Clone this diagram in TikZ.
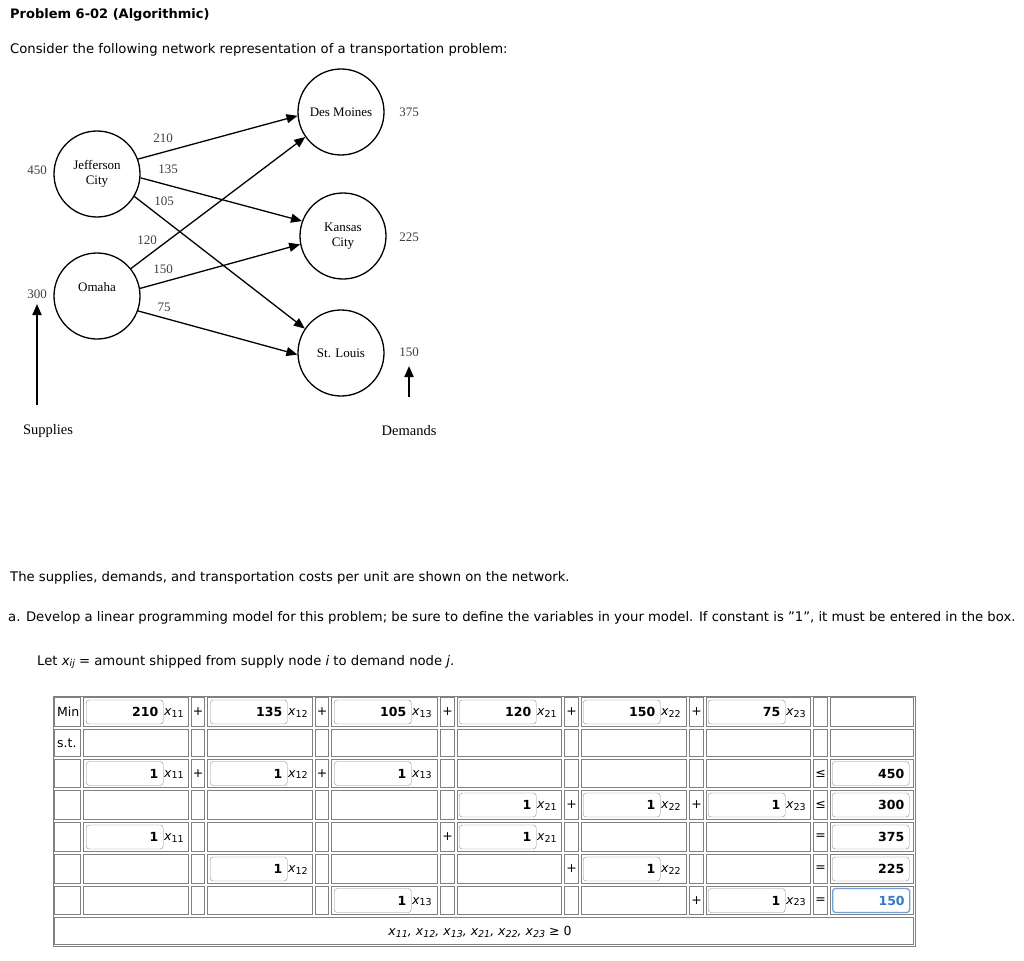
\documentclass[tikz,border=0pt]{standalone}
\usepackage{fontspec}
\setmainfont{DejaVu Sans}
\newfontfamily\serifn{Liberation Serif}
\usetikzlibrary{arrows.meta}
\definecolor{gridc}{gray}{0.5}
\definecolor{boxc}{gray}{0.55}
\definecolor{blueval}{RGB}{52,120,200}
\newcommand\xv[1]{{\itshape x}\raisebox{-1.5pt}{\fontsize{9.5}{10}\selectfont #1}}
\newcommand\sbx[1]{\raisebox{-1.5pt}{\fontsize{9.5}{10}\selectfont #1}}
\tikzset{
  city/.style={circle,draw,line width=1.3pt,minimum size=86pt,inner sep=0pt,align=center,font=\serifn\fontsize{13}{15}\selectfont},
  netlbl/.style={font=\serifn\fontsize{13}{15}\selectfont,text=black!75},
  flow/.style={line width=1.3pt,-{Triangle[length=11pt,width=9pt]}},
  txt/.style={anchor=west,font=\fontsize{13.2}{15}\selectfont,inner sep=0pt},
  cell/.style={draw=gridc,line width=0.8pt},
  valbox/.style={draw=boxc,rounded corners=3pt,minimum width=77pt,minimum height=24pt,inner sep=5pt,anchor=west,align=right,text width=67pt,font=\bfseries\fontsize{12.5}{14}\selectfont},
  vlab/.style={anchor=west,inner sep=0pt,font=\fontsize{12.5}{14}\selectfont},
  op/.style={font=\fontsize{12.5}{14}\selectfont,inner sep=0pt}}
\begin{document}
\begin{tikzpicture}[x=1pt,y=-1pt]
\useasboundingbox (0,0) rectangle (1024,960);
\fill[white] (0,0) rectangle (1024,960);
\node[txt,font=\bfseries\fontsize{13}{15}\selectfont] (title) at (10,15) {Problem 6-02 (Algorithmic)};
\node[txt] (cons) at (10,50) {Consider the following network representation of a transportation problem:};
\node[txt] (supp) at (10,578) {The supplies, demands, and transportation costs per unit are shown on the network.};
\node[txt] (parta) at (8,618) {a. Develop a linear programming model for this problem; be sure to define the variables in your model. If constant is \symbol{34}1\symbol{34}, it must be entered in the box.};
\node[txt] (let) at (37,662) {Let {\itshape x\sbx{ij}} = amount shipped from supply node {\itshape i} to demand node {\itshape j}.};
\node[city] (J) at (97,174) {Jefferson\\City};
\node[city] (O) at (97,296) {Omaha\\[4pt]};
\node[city] (DM) at (341,112) {Des Moines};
\node[city] (KC) at (343,236) {Kansas\\City};
\node[city] (SL) at (341,353) {St. Louis};
\draw[flow] (J.20) -- (DM.185);
\draw[flow] (J.-5) -- (KC.160);
\draw[flow] (J.-31) -- (SL.146);
\draw[flow] (O.39) -- (DM.215);
\draw[flow] (O.10) -- (KC.191);
\draw[flow] (O.-20) -- (SL.182);
\node[netlbl] (c1) at (163,138) {210};
\node[netlbl] (c2) at (168,169) {135};
\node[netlbl] (c3) at (164,201) {105};
\node[netlbl] (c4) at (147,240) {120};
\node[netlbl] (c5) at (163,269) {150};
\node[netlbl] (c6) at (164,307) {75};
\node[netlbl] (s1) at (37,170) {450};
\node[netlbl] (s2) at (37,294) {300};
\node[netlbl] (d1) at (409,112) {375};
\node[netlbl] (d2) at (409,237) {225};
\node[netlbl] (d3) at (409,352) {150};
\node[font=\serifn\fontsize{14.5}{16}\selectfont] (SupL) at (48,431) {Supplies};
\node[font=\serifn\fontsize{14.5}{16}\selectfont] (DemL) at (409,431) {Demands};
\coordinate (sa) at (37,405); \coordinate (sb) at (37,304);
\coordinate (da) at (409,397); \coordinate (db) at (409,366);
\draw[flow,line width=2pt] (sa) -- (sb);
\draw[flow,line width=2pt] (da) -- (db);
\draw[gridc,line width=0.8pt] (53,696) rectangle (915,946);
\foreach \ya/\yb in {696/728,728/758,758/789,789/821,821/853,853/885,885/916}
 \foreach \xa/\xb in {53/82,82/190,190/206,206/314,314/330,330/439,439/456,456/563,563/580,580/688,688/705,705/812,812/829,829/915}
  \draw[cell] ({\xa+1.2},{\ya+1.2}) rectangle ({\xb-1.2},{\yb-1.2});
\draw[cell] (54.2,917.2) rectangle (913.8,944.8);
\node[op,anchor=west] (min) at (57,712) {Min};
\node[op,anchor=west] (st) at (57,743) {s.t.};
\foreach \bx/\vl/\sb/\nm in {86/210/11/a1,210/135/12/a2,334/105/13/a3,459/120/21/a4,583/150/22/a5,708/75/23/a6}{
  \node[valbox] (\nm) at (\bx,712) {\vl};
  \node[vlab] (\nm l) at ({\bx+78},713) {\xv{\sb}};}
\foreach \bx/\yy/\sb/\nm in {86/773.5/11/b1,210/773.5/12/b2,334/773.5/13/b3,459/805/21/b4,583/805/22/b5,708/805/23/b6,86/837/11/b7,459/837/21/b8,210/869/12/b9,583/869/22/b10,334/900.5/13/b11,708/900.5/23/b12}{
  \node[valbox] (\nm) at (\bx,\yy) {1};
  \node[vlab] (\nm l) at ({\bx+78},{\yy+1}) {\xv{\sb}};}
\foreach \xx/\yy/\nm in {198/712/p1,322/712/p2,447.5/712/p3,571.5/712/p4,696.5/712/p5,198/773.5/p6,322/773.5/p7,571.5/805/p8,696.5/805/p9,447.5/837/p10,571.5/869/p11,696.5/900.5/p12}
  \node[op] (\nm) at (\xx,\yy) {+};
\node[op] (r1) at (820.5,773.5) {≤};
\node[op] (r2) at (820.5,805) {≤};
\node[op] (r3) at (820.5,837) {=};
\node[op] (r4) at (820.5,869) {=};
\node[op] (r5) at (820.5,900.5) {=};
\foreach \yy/\vl/\nm in {773.5/450/h1,805/300/h2,837/375/h3,869/225/h4}
  \node[valbox] (\nm) at (832,\yy) {\vl};
\node[valbox,draw=blueval!70,line width=1.3pt,text=blueval] (h5) at (832,900.5) {150};
\node[op] (nn) at (480,932) {\itshape x\sbx{11}, x\sbx{12}, x\sbx{13}, x\sbx{21}, x\sbx{22}, x\sbx{23} \upshape ≥ 0};
\end{tikzpicture}
\end{document}
